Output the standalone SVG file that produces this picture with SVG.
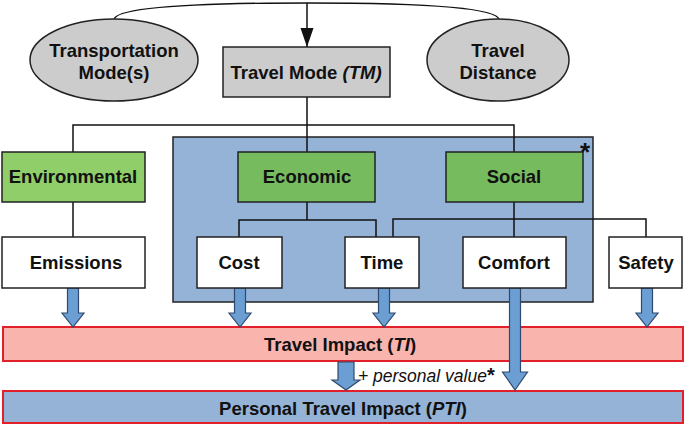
<svg xmlns="http://www.w3.org/2000/svg" width="685" height="428" viewBox="0 0 685 428">
<defs>
<style>
text{font-family:"Liberation Sans",Arial,sans-serif;font-weight:bold;font-size:18.5px;fill:#111;text-anchor:middle}
.ln{fill:none;stroke:#111;stroke-width:1.5}
.box{stroke:#222;stroke-width:1.5}
.grey{fill:#cccccc}
.white{fill:#ffffff}
.g1{fill:#8fce68}
.g2{fill:#77bb5f}
.bar{stroke:#e3202a;stroke-width:2}
.barr{fill:#f8b4ad}
.barb{fill:#95b3d7}
.arr{fill:#6b9fd4;stroke:#2f4a6e;stroke-width:1.2}
.it{font-weight:normal;font-style:italic;font-size:17.5px;text-anchor:start}
.star{font-size:26px}
</style>
<marker id="ah" markerWidth="20" markerHeight="14" refX="19" refY="6.5" orient="auto" markerUnits="userSpaceOnUse">
<path d="M0,0 L19,6.5 L0,13 Z" fill="#111"/>
</marker>
</defs>
<rect width="685" height="428" fill="#ffffff"/>

<g id="panel">
<rect x="173" y="137" width="420" height="165" fill="#95b3d7" stroke="#222" stroke-width="1.5"/>
<text class="star" x="585" y="161">*</text>
</g>

<g id="travel-impact">
<rect class="bar barr" x="3" y="327" width="680" height="34"/>
<text x="340" y="351">Travel Impact (<tspan font-style="italic">TI</tspan>)</text>
</g>

<g id="personal-travel-impact">
<rect class="bar barb" x="3" y="391" width="680" height="32"/>
<text x="343" y="415">Personal Travel Impact (<tspan font-style="italic">PTI</tspan>)</text>
</g>

<g id="connectors">
<path class="ln" d="M114,20 C114,7 200,3 307,3 C414,3 499,7 499,20"/>
<path class="ln" d="M307,3 L307,47" marker-end="url(#ah)"/>
<path class="ln" d="M307,97 V125 M73,152 V125 H514 V152 M307,125 V152"/>
<path class="ln" d="M73,202 V237"/>
<path class="ln" d="M307,202 V220 M239,237 V220 H376 V237"/>
<path class="ln" d="M514,202 V237 M393,237 V219 H646 V237"/>
<path class="arr" d="M67.5,288 H78.5 V313 H84 L73,327 L62,313 H67.5 Z"/>
<path class="arr" d="M234.5,288 H245.5 V313 H251 L240,327 L229,313 H234.5 Z"/>
<path class="arr" d="M378.5,288 H389.5 V313 H395 L384,327 L373,313 H378.5 Z"/>
<path class="arr" d="M641.5,288 H652.5 V313 H658 L647,327 L636,313 H641.5 Z"/>
<path class="arr" d="M509.5,288 H520.5 V372 H527.5 L515,390 L502.5,372 H509.5 Z"/>
<path class="arr" d="M338,362 H354 V380 H360 L346,390 L332,380 H338 Z"/>
</g>

<g id="ti-to-pti-label">
<text class="it" x="358" y="382">+ personal value<tspan font-style="normal" font-weight="bold" font-size="20px">*</tspan></text>
</g>

<g id="transportation-modes">
<ellipse class="box grey" cx="114" cy="60" rx="84" ry="41"/>
<text x="114" y="57">Transportation</text>
<text x="114" y="79">Mode(s)</text>
</g>

<g id="travel-mode">
<rect class="box grey" x="223" y="47" width="167" height="50"/>
<text x="306" y="79">Travel Mode <tspan font-style="italic">(TM)</tspan></text>
</g>

<g id="travel-distance">
<ellipse class="box grey" cx="498" cy="60" rx="71" ry="41"/>
<text x="498" y="57">Travel</text>
<text x="498" y="79">Distance</text>
</g>

<g id="environmental">
<rect class="box g1" x="2" y="152" width="143" height="50"/>
<text x="73" y="183">Environmental</text>
</g>

<g id="economic">
<rect class="box g2" x="238" y="152" width="137" height="50"/>
<text x="307" y="183">Economic</text>
</g>

<g id="social">
<rect class="box g2" x="446" y="152" width="137" height="50"/>
<text x="514" y="183">Social</text>
</g>

<g id="emissions">
<rect class="box white" x="2" y="237" width="143" height="51"/>
<text x="76" y="269">Emissions</text>
</g>

<g id="cost">
<rect class="box white" x="197" y="237" width="85" height="51"/>
<text x="239" y="269">Cost</text>
</g>

<g id="time">
<rect class="box white" x="345" y="237" width="74" height="51"/>
<text x="382" y="269">Time</text>
</g>

<g id="comfort">
<rect class="box white" x="463" y="237" width="103" height="51"/>
<text x="514" y="269">Comfort</text>
</g>

<g id="safety">
<rect class="box white" x="609" y="237" width="73" height="51"/>
<text x="646" y="269">Safety</text>
</g>
</svg>
